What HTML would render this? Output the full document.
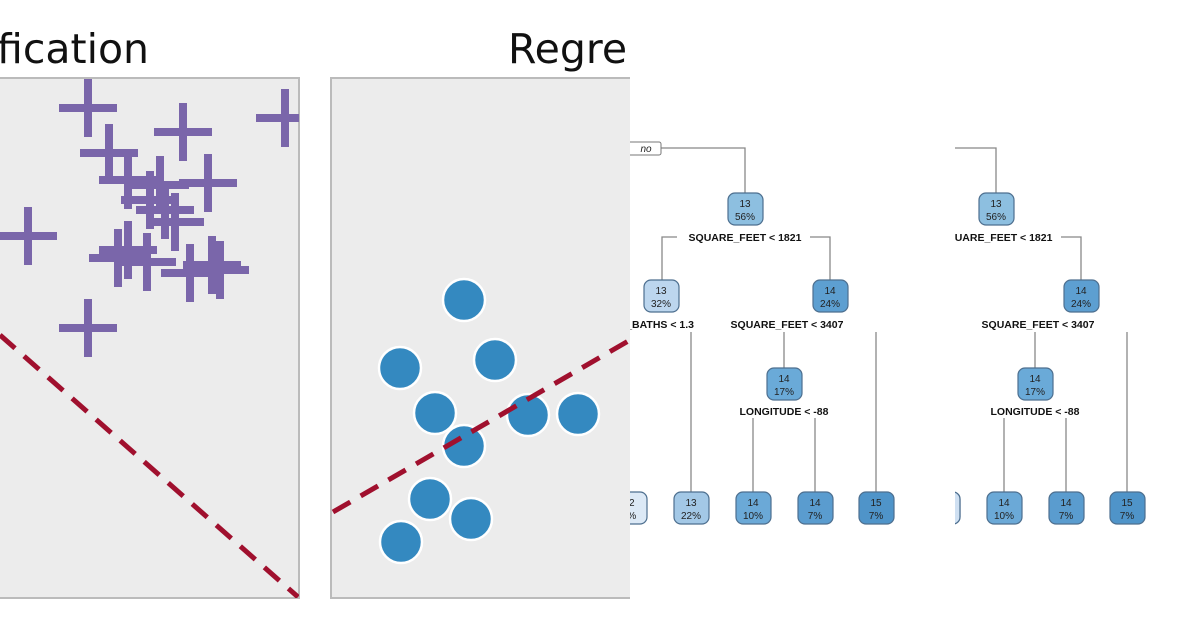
<!DOCTYPE html>
<html><head><meta charset="utf-8"><style>
html,body{margin:0;padding:0;background:#fff;width:1200px;height:630px;overflow:hidden}
svg{display:block}
.t{font-family:"DejaVu Sans","Liberation Sans",sans-serif;font-size:41px;fill:#111}
.n{font-family:"Liberation Sans",Arial,sans-serif;font-size:10px;fill:#222;text-anchor:middle}
.l{font-family:"Liberation Sans",Arial,sans-serif;font-size:10.5px;font-weight:bold;fill:#111;text-anchor:middle}
</style></head><body>
<svg width="1200" height="630" viewBox="0 0 1200 630" xmlns="http://www.w3.org/2000/svg">
<defs>
<g id="pl"><rect x="-29" y="-4" width="58" height="8"/><rect x="-4" y="-29" width="8" height="58"/></g>
<clipPath id="cl"><rect x="0" y="78" width="299" height="520"/></clipPath>
<clipPath id="cm"><rect x="331" y="78" width="299" height="520"/></clipPath>
<clipPath id="ct1"><rect x="630" y="0" width="323" height="630"/></clipPath>
<clipPath id="ct2"><rect x="955" y="0" width="245" height="630"/></clipPath>
<g id="tree">
 <g fill="none" stroke="#888" stroke-width="1.3">
  <path d="M661 148H745V193"/>
  <path d="M677 237H662V280"/><path d="M810 237H830V280"/>
  <path d="M784 332V368"/><path d="M876 332V492"/><path d="M691 332V492"/>
  <path d="M753 418V492"/><path d="M815 418V492"/>
 </g>
 <rect x="620" y="142" width="41" height="13" rx="2" fill="#fff" stroke="#777"/>
 <text x="646" y="152" class="n" font-style="italic" font-size="8">no</text>
 <g stroke="#4d6f8f" stroke-width="1.2">
  <rect x="728" y="193" width="35" height="32" rx="7" fill="#8dbfe0"/>
  <rect x="644" y="280" width="35" height="32" rx="7" fill="#bcd6ee"/>
  <rect x="813" y="280" width="35" height="32" rx="7" fill="#5d9fd1"/>
  <rect x="767" y="368" width="35" height="32" rx="7" fill="#6aaad8"/>
  <rect x="612" y="492" width="35" height="32" rx="7" fill="#dce9f6"/>
  <rect x="674" y="492" width="35" height="32" rx="7" fill="#a3c8e6"/>
  <rect x="736" y="492" width="35" height="32" rx="7" fill="#6ba9d7"/>
  <rect x="798" y="492" width="35" height="32" rx="7" fill="#5a9ccf"/>
  <rect x="859" y="492" width="35" height="32" rx="7" fill="#4f94c9"/>
 </g>
 <text x="745" y="207" class="n">13</text><text x="745" y="220" class="n">56%</text>
 <text x="661" y="294" class="n">13</text><text x="661" y="307" class="n">32%</text>
 <text x="830" y="294" class="n">14</text><text x="830" y="307" class="n">24%</text>
 <text x="784" y="382" class="n">14</text><text x="784" y="395" class="n">17%</text>
 <text x="629" y="506" class="n">12</text><text x="629" y="519" class="n">9%</text>
 <text x="691" y="506" class="n">13</text><text x="691" y="519" class="n">22%</text>
 <text x="753" y="506" class="n">14</text><text x="753" y="519" class="n">10%</text>
 <text x="815" y="506" class="n">14</text><text x="815" y="519" class="n">7%</text>
 <text x="876" y="506" class="n">15</text><text x="876" y="519" class="n">7%</text>
 <text x="745" y="241" class="l">SQUARE_FEET &lt; 1821</text>
 <text x="694" y="328" class="l" text-anchor="end" style="text-anchor:end">NUM_BATHS &lt; 1.3</text>
 <text x="787" y="328" class="l">SQUARE_FEET &lt; 3407</text>
 <text x="784" y="415" class="l">LONGITUDE &lt; -88</text>
</g>
</defs>
<text x="-3" y="63" class="t">fication</text>
<text x="508" y="63" class="t">Regre</text>
<rect x="-5" y="78" width="304" height="520" fill="#ececec" stroke="#bbb" stroke-width="2"/>
<rect x="331" y="78" width="310" height="520" fill="#ececec" stroke="#bbb" stroke-width="2"/>
<g clip-path="url(#cl)" fill="#7a66aa">
 <use href="#pl" x="88" y="108"/><use href="#pl" x="285" y="118"/><use href="#pl" x="183" y="132"/>
 <use href="#pl" x="109" y="153"/><use href="#pl" x="128" y="180"/><use href="#pl" x="208" y="183"/>
 <use href="#pl" x="160" y="185"/><use href="#pl" x="150" y="200"/><use href="#pl" x="175" y="222"/>
 <use href="#pl" x="165" y="210"/><use href="#pl" x="28" y="236"/><use href="#pl" x="118" y="258"/>
 <use href="#pl" x="147" y="262"/><use href="#pl" x="190" y="273"/><use href="#pl" x="220" y="270"/>
 <use href="#pl" x="212" y="265"/><use href="#pl" x="88" y="328"/><use href="#pl" x="128" y="250"/>
 <line x1="0" y1="335" x2="298" y2="597" stroke="#a0102e" stroke-width="5" stroke-dasharray="20,12"/>
</g>
<g clip-path="url(#cm)">
 <g fill="#3489c0" stroke="#fff" stroke-width="2.5">
  <circle cx="464" cy="300" r="21"/><circle cx="400" cy="368" r="21"/><circle cx="495" cy="360" r="21"/>
  <circle cx="435" cy="413" r="21"/><circle cx="528" cy="415" r="21"/><circle cx="578" cy="414" r="21"/>
  <circle cx="464" cy="446" r="21"/><circle cx="430" cy="499" r="21"/><circle cx="471" cy="519" r="21"/>
  <circle cx="401" cy="542" r="21"/>
 </g>
 <line x1="333" y1="512" x2="630" y2="340" stroke="#a0102e" stroke-width="5" stroke-dasharray="20,12"/>
</g>
<rect x="630" y="0" width="570" height="630" fill="#fff"/>
<g clip-path="url(#ct1)"><use href="#tree"/></g>
<g clip-path="url(#ct2)"><use href="#tree" x="251"/>
 <rect x="925" y="492" width="35" height="32" rx="7" fill="#cfe0f2" stroke="#4d6f8f" stroke-width="1.2"/>
</g>
</svg>
</body></html>
